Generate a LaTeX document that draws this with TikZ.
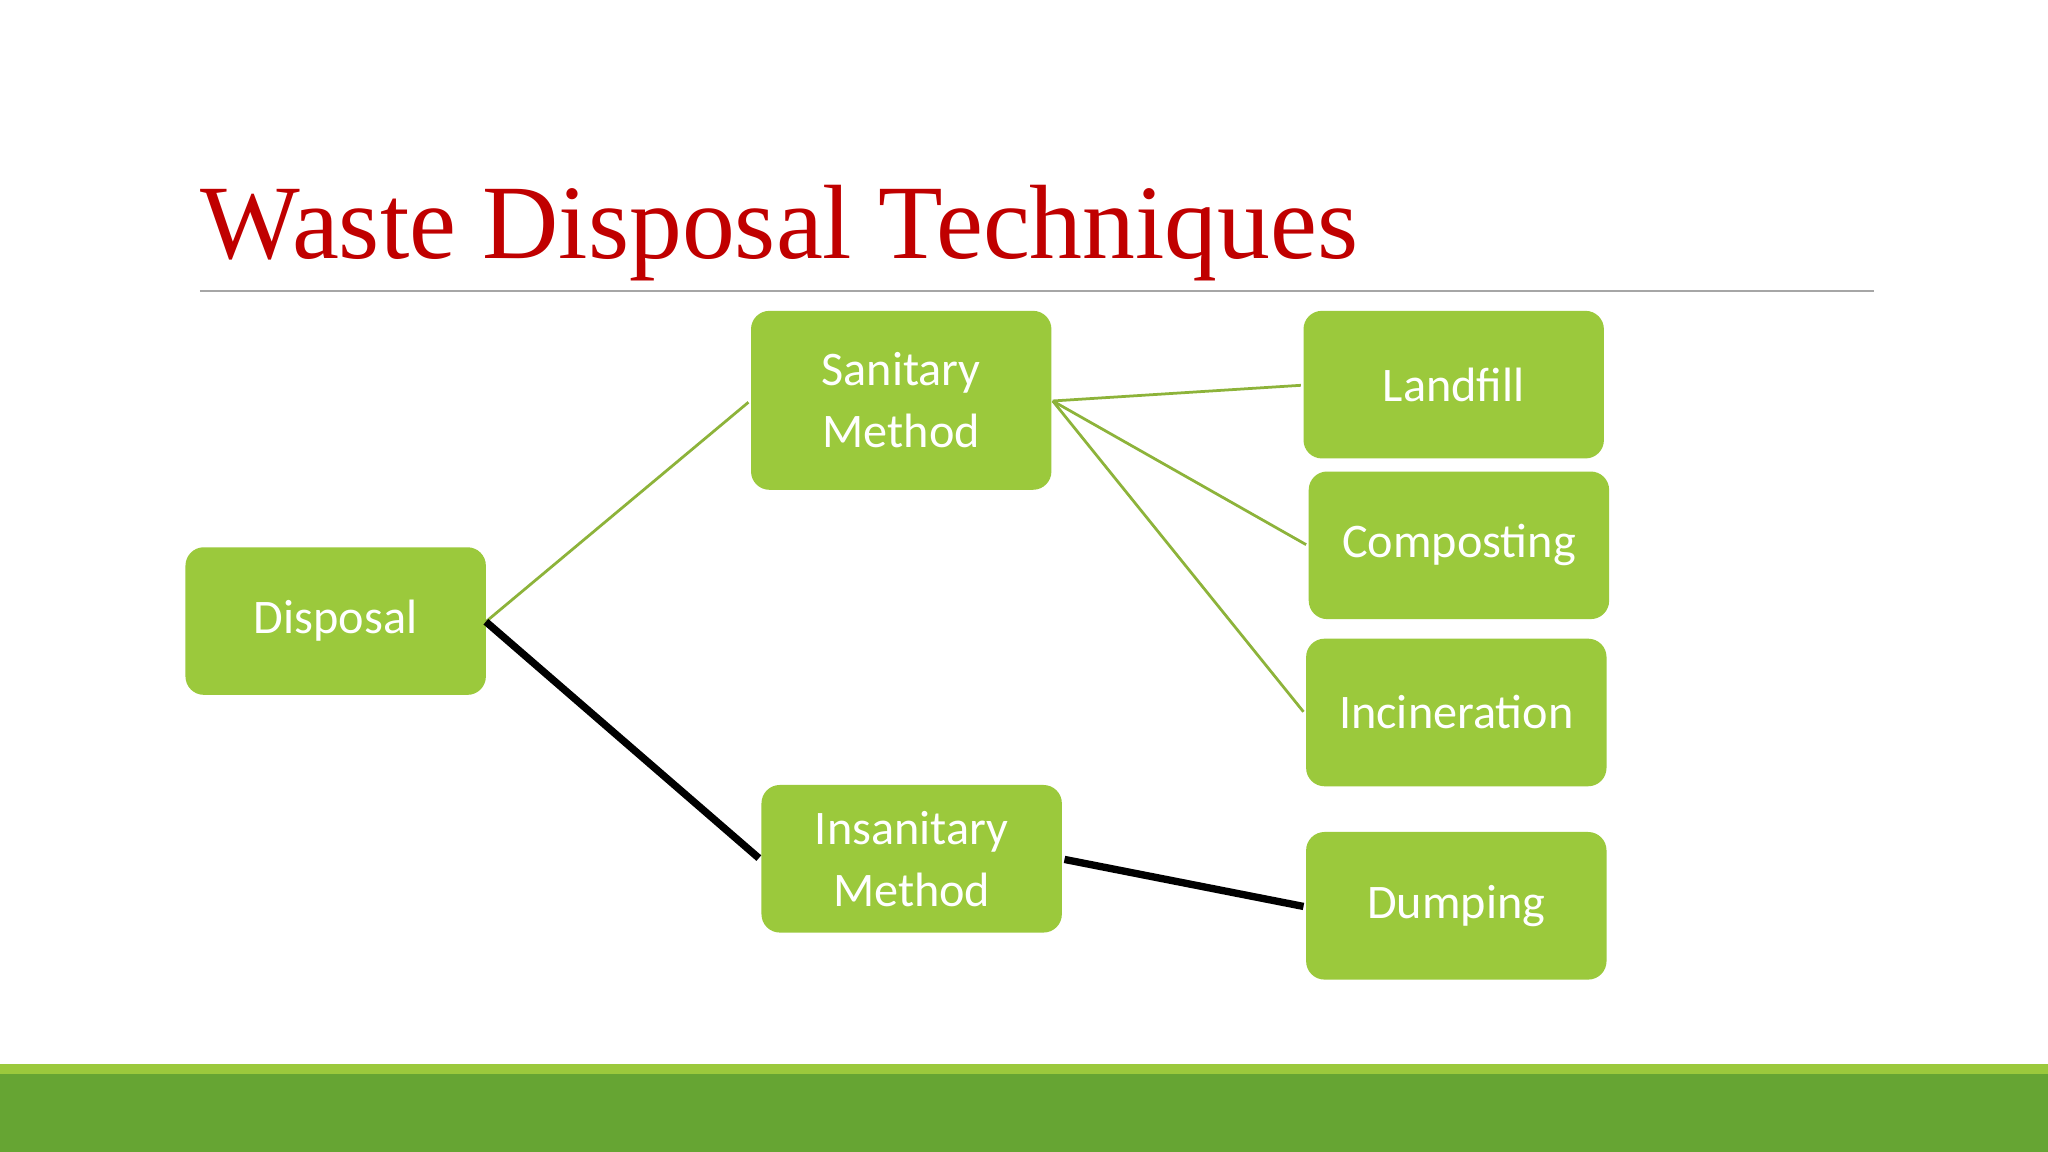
\documentclass[tikz,border=0pt]{standalone}
\usepackage{fontspec}
\setmainfont{Carlito}
\newfontfamily\titlefont{Liberation Serif}
\definecolor{boxg}{HTML}{9BC93C}
\definecolor{darkg}{HTML}{66A533}
\definecolor{titler}{HTML}{C00000}
\definecolor{lineg}{HTML}{8DB33A}
\begin{document}
\begin{tikzpicture}[x=0.01cm,y=-0.01cm,
  bx/.style={fill=boxg, rounded corners=4pt, text=white, align=center, font=\fontsize{10.5pt}{13.5pt}\selectfont},
  gl/.style={lineg, line width=0.6pt},
  bl/.style={black, line width=1.6pt}]
\useasboundingbox (0,0) rectangle (1568,882);
\fill[white] (0,0) rectangle (1568,882);
\fill[boxg] (0,815) rectangle (1568,822);
\fill[darkg] (0,822) rectangle (1568,882);
\node[anchor=base west, inner sep=0, text=titler, font=\titlefont\fontsize{23pt}{26pt}\selectfont] (title) at (153,198) {Waste Disposal Techniques};
\draw[gray!70, line width=0.5pt] (153,223) -- (1435,223);
\newcommand\bbox[6]{\path[bx] (#2,#3) rectangle (#4,#5); \node[text=white, align=center, font=\fontsize{10.5pt}{13.5pt}\selectfont, inner sep=0, minimum width=230*0.01cm, minimum height=0.2cm] (#1) at ({(#2+#4)/2},{(#3+#5)/2}) {#6};}
\bbox{disp}{142}{419}{372}{532}{Disposal}
\bbox{san}{575}{238}{805}{375}{Sanitary\\Method}
\bbox{insan}{583}{601}{813}{714}{Insanitary\\Method}
\bbox{land}{998}{238}{1228}{351}{Landfill}
\bbox{comp}{1002}{361}{1232}{474}{Composting}
\bbox{inc}{1000}{489}{1230}{602}{Incineration}
\bbox{dump}{1000}{637}{1230}{750}{Dumping}
\coordinate (dR) at (372,476);
\coordinate (sL) at (573,308);
\coordinate (iL) at (581,657);
\coordinate (sR) at (806,307);
\coordinate (lL) at (996,295);
\coordinate (cL) at (1000,417);
\coordinate (nL) at (998,545);
\coordinate (iR) at (815,658);
\coordinate (uL) at (998,694);
\draw[gl] (dR) -- (sL);
\draw[bl] (dR) -- (iL);
\draw[gl] (sR) -- (lL);
\draw[gl] (sR) -- (cL);
\draw[gl] (sR) -- (nL);
\draw[bl] (iR) -- (uL);
\end{tikzpicture}
\end{document}
